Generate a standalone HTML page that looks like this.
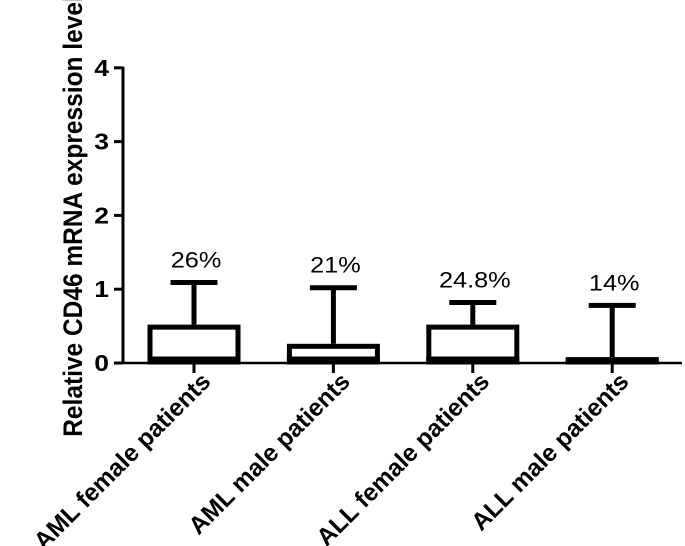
<!DOCTYPE html>
<html><head><meta charset="utf-8"><style>
html,body{margin:0;padding:0;background:#fff;}
svg{display:block;font-family:"Liberation Sans",Arial,sans-serif;}
</style></head><body>
<svg id="chart" width="685" height="546" viewBox="0 0 685 546"></svg>
<script>
const categories = ["AML female patients","AML male patients","ALL female patients","ALL male patients"];
const boxTop = [0.52,0.26,0.52,0.08];
const boxBottom = [0.04,0.04,0.04,0.02];
const whiskerMax = [1.09,1.02,0.82,0.78];
const pctLabels = ["26%","21%","24.8%","14%"];
const yTicks = [0,1,2,3,4];

const NS="http://www.w3.org/2000/svg";
const svg=document.getElementById('chart');
const x0=123, xEnd=682, yZero=363, pxPerUnit=73.8, step=139.4, firstC=194, boxW=93, capW=47;
const y=v=>yZero-v*pxPerUnit;
const xc=i=>firstC+i*step;
function el(tag,attrs,parent){const e=document.createElementNS(NS,tag);for(const k in attrs)e.setAttribute(k,attrs[k]);(parent||svg).appendChild(e);return e;}

const yAxis=el('line',{x1:x0,y1:y(4)-1,x2:x0,y2:yZero+1,stroke:'#000','stroke-width':3});


const xAxis=el('line',{x1:x0-1,y1:yZero,x2:xEnd,y2:yZero,stroke:'#000','stroke-width':2.5});



yTicks.forEach(t=>{
  const tk=el('line',{x1:x0-9,y1:y(t),x2:x0,y2:y(t),stroke:'#000','stroke-width':3});
  
  
  const lb=el('text',{transform:`translate(${x0-14},${y(t)+8}) scale(1.15,1)`,'text-anchor':'end','font-size':23,'font-weight':'bold'});
  lb.textContent=t;
  
  
});

const yt=el('text',{transform:'translate(82,216) scale(1.1,1) rotate(-90)','text-anchor':'middle','font-size':24.5,'font-weight':'bold'});
yt.textContent='Relative CD46 mRNA expression level';



categories.forEach((c,i)=>{
  const cx=xc(i);
  const g=el('g',{});
  
  
  el('line',{x1:cx,y1:y(whiskerMax[i]),x2:cx,y2:y(boxTop[i]),stroke:'#000','stroke-width':5},g);
  el('line',{x1:cx-capW/2,y1:y(whiskerMax[i]),x2:cx+capW/2,y2:y(whiskerMax[i]),stroke:'#000','stroke-width':5},g);
  const top=y(boxTop[i]), bot=yZero-1;
  el('rect',{x:cx-boxW/2+2.5,y:top+2.5,width:boxW-5,height:Math.max(bot-top-2.5,0.5),fill:'#fff',stroke:'#000','stroke-width':5},g);
  el('line',{x1:cx-boxW/2,y1:y(boxBottom[i])-1,x2:cx+boxW/2,y2:y(boxBottom[i])-1,stroke:'#000','stroke-width':5},g);
  const tk=el('line',{x1:cx,y1:yZero,x2:cx,y2:yZero+10,stroke:'#000','stroke-width':3});
  
  
  const pl=el('text',{transform:`translate(${cx+2},${y(whiskerMax[i])-15}) scale(1.15,1)`,'text-anchor':'middle','font-size':22});
  pl.textContent=pctLabels[i];
  
  
  const xl=el('text',{transform:`translate(${cx+18},${yZero+20}) rotate(-45)`,'text-anchor':'end','font-size':24.5,'font-weight':'bold'});
  xl.textContent=c;
  
  
});
</script>
</body></html>
